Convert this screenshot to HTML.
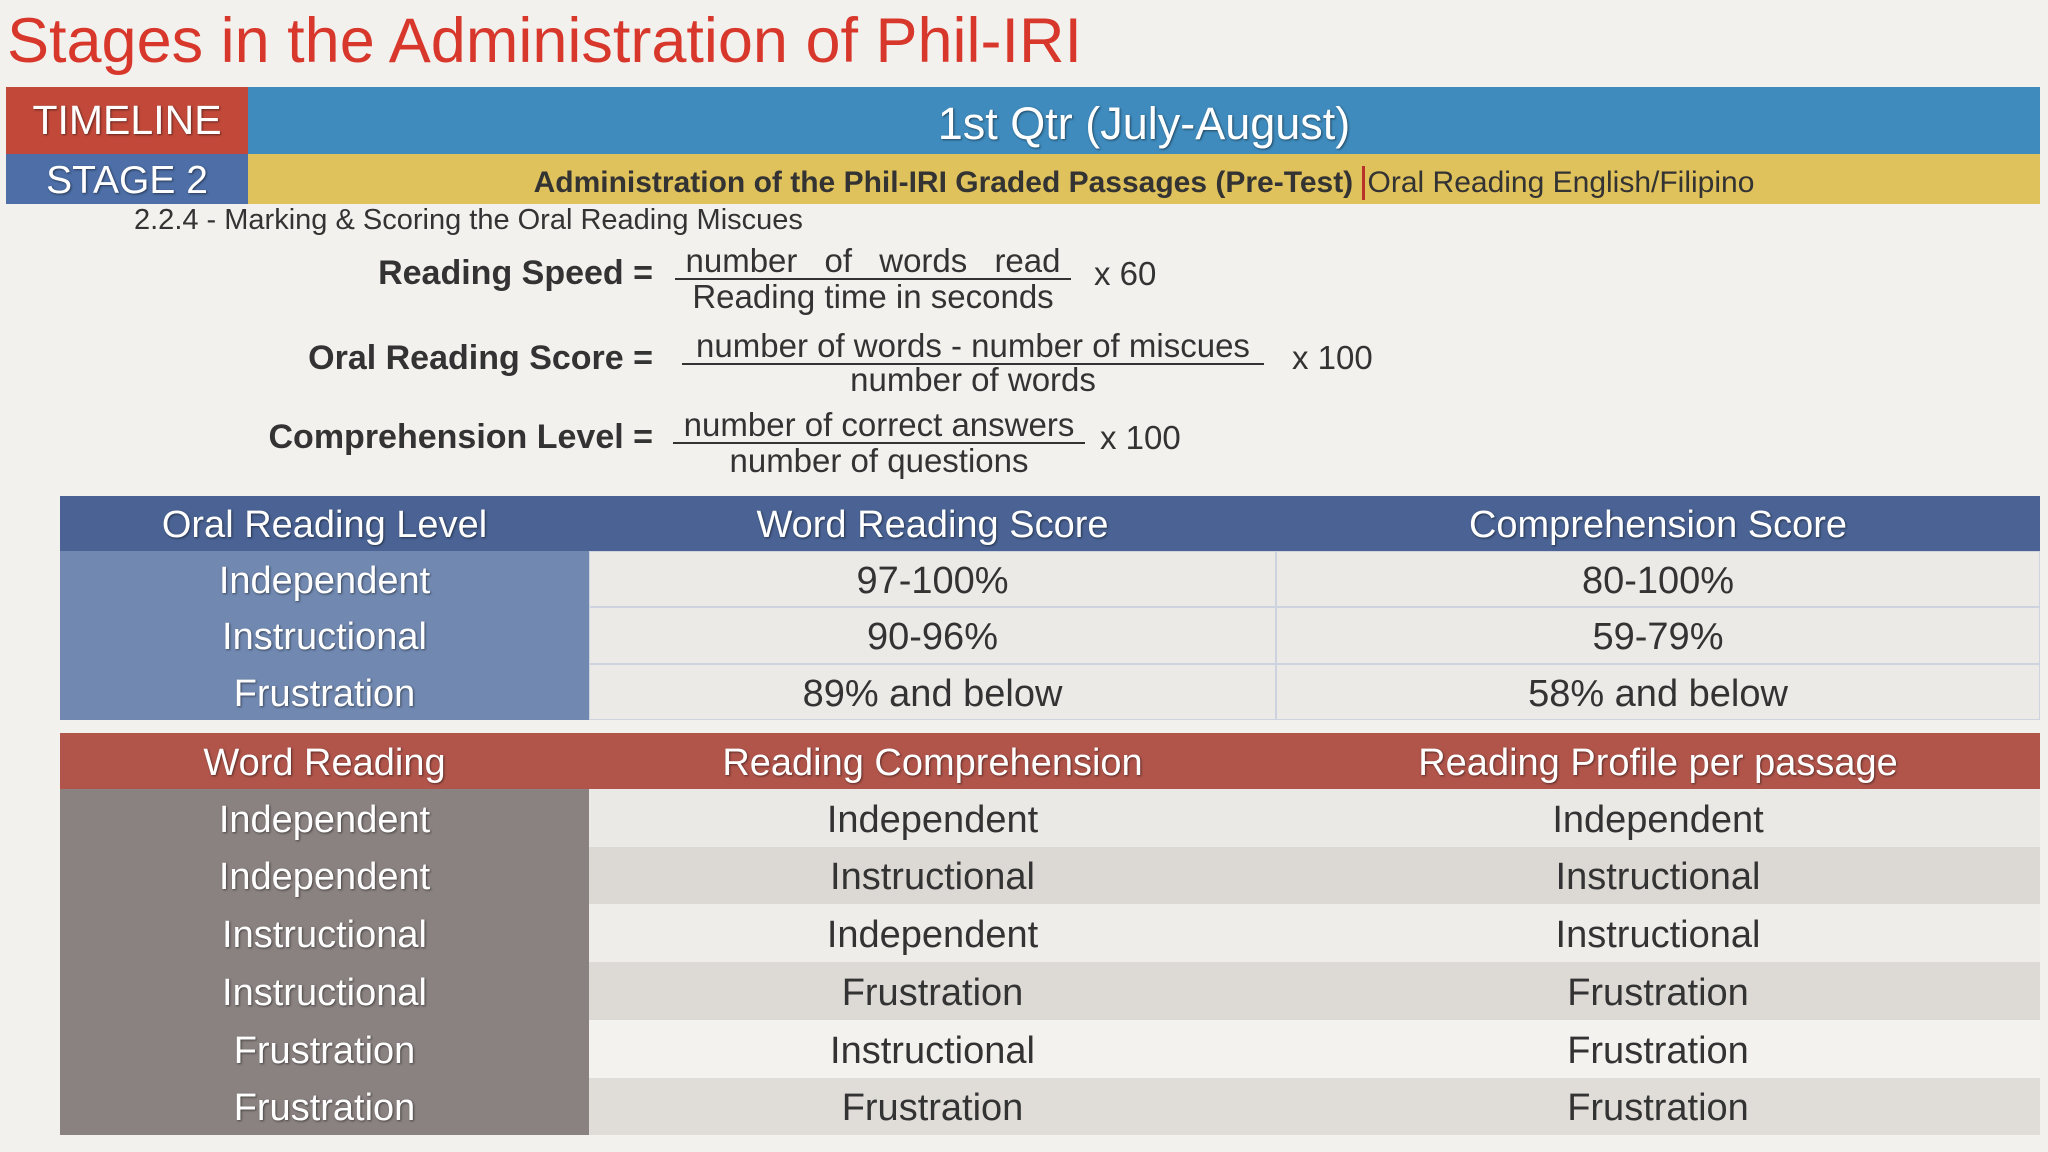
<!DOCTYPE html>
<html><head><meta charset="utf-8">
<style>
body{margin:0;width:2048px;height:1152px;background:#f3f1ee;position:relative;overflow:hidden;font-family:"Liberation Sans Narrow","Liberation Sans",sans-serif;}
div{position:absolute;box-sizing:border-box;}
.c{display:flex;align-items:center;justify-content:center;}
.sh{text-shadow:1px 1px 2px rgba(0,0,0,.5);}
.lab{right:1395px;font-weight:bold;font-size:34px;color:#333;white-space:nowrap;}
.num{font-size:33px;color:#333;text-align:center;white-space:nowrap;border-bottom:2px solid #333;line-height:34px;}
.den{font-size:33px;color:#333;text-align:center;white-space:nowrap;line-height:34px;}
.mul{font-size:33px;color:#333;white-space:nowrap;}
.t{font-size:38px;padding-top:4px;}
</style></head><body>
<div style="left:7px;top:5px;font-size:63px;color:#d8372b;white-space:nowrap;">Stages in the Administration of Phil-IRI</div>

<div class="c sh" style="left:6px;top:87px;width:242px;height:67px;background:#c2493a;color:#fff;font-size:41px;">TIMELINE</div>
<div class="c sh" style="left:248px;top:87px;width:1792px;height:67px;background:#3f8bbd;color:#fff;font-size:45px;padding-top:6px;">1st Qtr (July-August)</div>
<div class="c sh" style="left:6px;top:154px;width:242px;height:50px;background:#4d6ea6;color:#fff;font-size:39px;padding-top:4px;">STAGE 2</div>
<div class="c" style="left:248px;top:154px;width:1792px;height:50px;background:#dfc25c;color:#333;font-size:30px;white-space:nowrap;padding-top:8px;"><b>Administration of the Phil-IRI Graded Passages (Pre-Test)</b>&nbsp;<span style="border-left:3px solid #b8322a;padding-left:3px;">Oral Reading English/Filipino</span></div>

<div style="left:134px;top:204px;font-size:29px;color:#333;white-space:nowrap;">2.2.4 - Marking &amp; Scoring the Oral Reading Miscues</div>

<div class="lab" style="top:254px;">Reading Speed =</div>
<div class="num" style="left:675px;top:244px;width:396px;word-spacing:18px;">number of words read</div>
<div class="den" style="left:675px;top:280px;width:396px;">Reading time in seconds</div>
<div class="mul" style="left:1094px;top:255px;">x 60</div>

<div class="lab" style="top:339px;">Oral Reading Score =</div>
<div class="num" style="left:682px;top:329px;width:582px;">number of words - number of miscues</div>
<div class="den" style="left:682px;top:363px;width:582px;">number of words</div>
<div class="mul" style="left:1292px;top:339px;">x 100</div>

<div class="lab" style="top:418px;">Comprehension Level =</div>
<div class="num" style="left:673px;top:408px;width:412px;">number of correct answers</div>
<div class="den" style="left:673px;top:444px;width:412px;">number of questions</div>
<div class="mul" style="left:1100px;top:419px;">x 100</div>

<script>
var t1Head=["Oral Reading Level","Word Reading Score","Comprehension Score"];
var t1Rows=[["Independent","97-100%","80-100%"],["Instructional","90-96%","59-79%"],["Frustration","89% and below","58% and below"]];
var t2Head=["Word Reading","Reading Comprehension","Reading Profile per passage"];
var t2Rows=[["Independent","Independent","Independent"],["Independent","Instructional","Instructional"],["Instructional","Independent","Instructional"],["Instructional","Frustration","Frustration"],["Frustration","Instructional","Frustration"],["Frustration","Frustration","Frustration"]];
var colX=[60,589,1276,2040];
function box(name,x,y,w,h,bg,color,txt,extra){
  var d=document.createElement('div');
  
  
  d.className='c t'+(color=='#fff'?' sh':'');
  d.style.cssText='left:'+x+'px;top:'+y+'px;width:'+w+'px;height:'+h+'px;background:'+bg+';color:'+color+';'+(extra||'');
  d.textContent=txt;
  document.body.appendChild(d);
}
function table(prefix,head,rows,top,hh,rh,hbg,lbg,cellBg,lines){
  for(var c=0;c<3;c++) box(prefix+'-header-'+(c+1),colX[c],top,colX[c+1]-colX[c],hh,hbg,'#fff',head[c]);
  for(var r=0;r<rows.length;r++){
    var y=Math.round(top+hh+r*rh), y2=Math.round(top+hh+(r+1)*rh);
    for(var c=0;c<3;c++){
      var bg=c==0?lbg:cellBg(r);
      var ex=(c>0&&lines)?'border:1px solid #cdd3df;':'';
      box(prefix+'-cell-r'+(r+1)+'-c'+(c+1),colX[c],y,colX[c+1]-colX[c],y2-y,bg,c==0?'#fff':'#333',rows[r][c],ex);
    }
  }
}
table('level-table',t1Head,t1Rows,496,55,56.3,'#4a6394','#7189b1',function(r){return '#ebeae7';},true);
table('profile-table',t2Head,t2Rows,733,56,57.7,'#b1554b','#8a8280',function(r){return ['#ebe9e6','#dcd8d4','#efedea','#ddd9d5','#f3f2ef','#e0ddd9'][r];},false);
</script>
</body></html>
